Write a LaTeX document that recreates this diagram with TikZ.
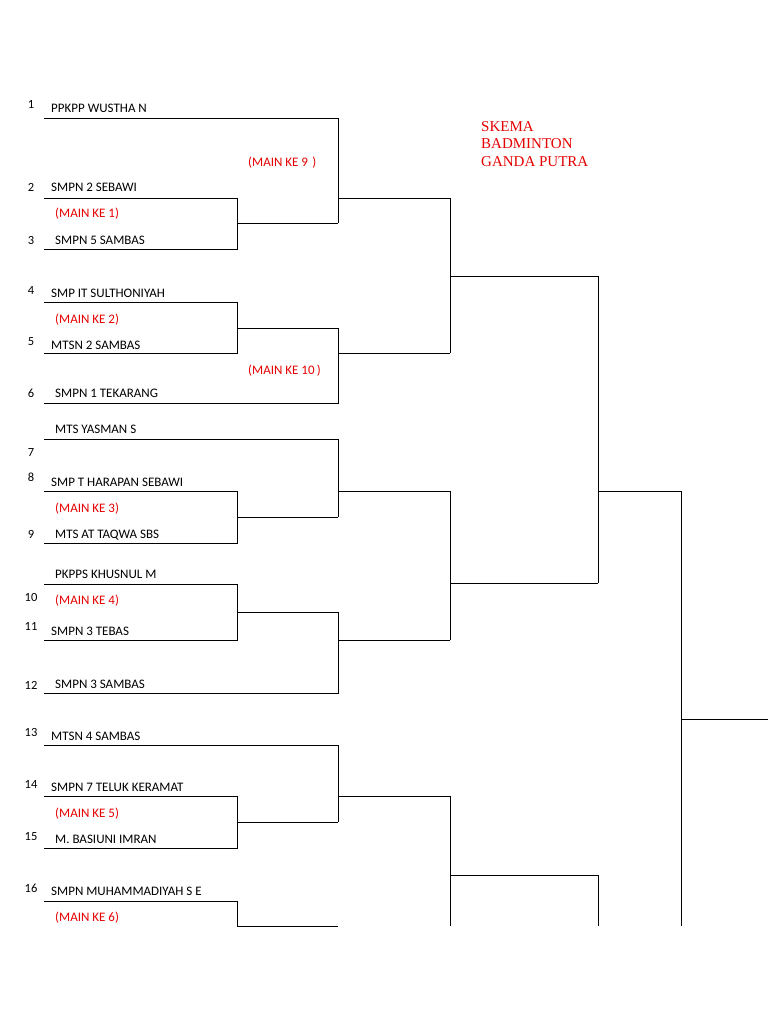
\documentclass[tikz,border=0pt]{standalone}
\usepackage{fontspec}
\setmainfont{Carlito}
\newfontfamily\titlefont{Liberation Serif}
\colorlet{mainred}{red!90!black}
\tikzset{
  team/.style={anchor=base west,inner sep=0pt,font=\fontsize{13}{15}\selectfont},
  num/.style={anchor=base,inner sep=0pt,font=\fontsize{12.5}{15}\selectfont},
  match/.style={team,text=mainred},
  bline/.style={line width=0.7pt}
}
\begin{document}
\begin{tikzpicture}[x=1pt,y=-1pt]
\useasboundingbox (0,0) rectangle (768,1024);
% numbers
\foreach \n/\y in {1/109,2/192,3/244,4/294,5/345,6/397,7/456,8/481,9/538,10/601,11/630,12/689,13/736,14/788,15/840,16/892}
  \node[num] (n\n) at (31,\y) {\n};
% teams
\foreach \t/\x/\y in {PPKPP WUSTHA N/51/113,SMPN 2 SEBAWI/51/192,SMPN 5 SAMBAS/55/244,SMP IT SULTHONIYAH/51/297,MTSN 2 SAMBAS/51/349,SMPN 1 TEKARANG/55/397,MTS YASMAN S/55/433,SMP T HARAPAN SEBAWI/51/486,MTS AT TAQWA SBS/55/538,PKPPS KHUSNUL M/55/578,SMPN 3 TEBAS/51/635,SMPN 3 SAMBAS/55/688,MTSN 4 SAMBAS/51/740,SMPN 7 TELUK KERAMAT/51/791,M. BASIUNI IMRAN/55/843,SMPN MUHAMMADIYAH S E/51/895}
  \node[team] at (\x,\y) {\t};
% matches
\foreach \m/\x/\y in {1/55/218,2/55/323,3/55/512,4/55/604,5/55/817,6/55/921}
  \node[match] (m\m) at (\x,\y) {(MAIN KE \m)};
\node[match] (m9) at (248,167) {(MAIN KE 9\,\,)};
\node[match] (m10) at (248,374) {(MAIN KE 10\,)};
\node[anchor=north west,align=left,inner sep=0pt,text=mainred,font=\titlefont\fontsize{15}{17.5}\selectfont] (title) at (481,121) {SKEMA\\BADMINTON\\GANDA PUTRA};
% round 1
\draw[bline] (44,198) -- (237,198) -- (237,249) -- (44,249) (237,223) -- (338,223);
\draw[bline] (44,302) -- (237,302) -- (237,353) -- (44,353) (237,328) -- (338,328);
\draw[bline] (44,491) -- (237,491) -- (237,543) -- (44,543) (237,517) -- (338,517);
\draw[bline] (44,584) -- (237,584) -- (237,640) -- (44,640) (237,612) -- (338,612);
\draw[bline] (44,796) -- (237,796) -- (237,848) -- (44,848) (237,822) -- (338,822);
\draw[bline] (44,901) -- (237,901) -- (237,926) -- (338,926);
% round 2
\draw[bline] (44,118) -- (338,118) -- (338,223) (338,198) -- (450,198);
\draw[bline] (338,328) -- (338,403) -- (44,403) (338,353) -- (450,353);
\draw[bline] (44,439) -- (338,439) -- (338,517) (338,491) -- (450,491);
\draw[bline] (338,612) -- (338,693) -- (44,693) (338,640) -- (450,640);
\draw[bline] (44,745) -- (338,745) -- (338,822) (338,796) -- (450,796);
% round 3
\draw[bline] (450,198) -- (450,353) (450,276) -- (598,276);
\draw[bline] (450,491) -- (450,640) (450,583) -- (598,583);
\draw[bline] (450,796) -- (450,926) (450,875) -- (598,875) -- (598,926);
% round 4
\draw[bline] (598,276) -- (598,583) (598,491) -- (681,491) -- (681,926) (681,719) -- (768,719);
\end{tikzpicture}
\end{document}
